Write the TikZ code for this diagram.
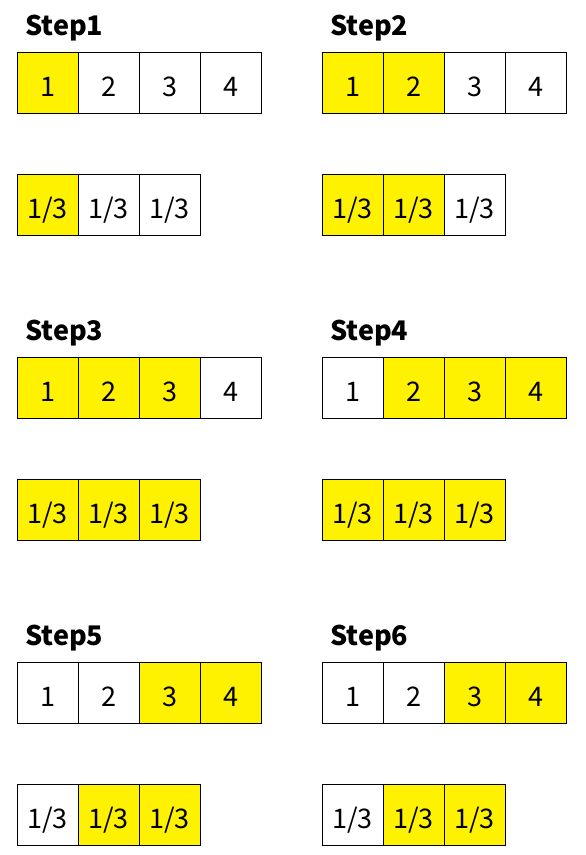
\documentclass[tikz,border=0pt]{standalone}
\usepackage{fontspec}
\setmainfont{Noto Sans CJK JP}
\usetikzlibrary{positioning}
\tikzset{
	cell/.style={rectangle, draw, line width=0.8pt, minimum width=61pt, minimum height=61pt, inner sep=0pt, outer sep=0pt, text height=28pt, text depth=0pt, font=\fontsize{27}{27}\selectfont},
	on/.style={cell, fill=yellow},
	title/.style={anchor=base west, inner sep=0pt, font=\fontsize{27}{27}\selectfont\bfseries}
}
\begin{document}
\begin{tikzpicture}[
		x=1pt, y=-1pt, % pixel grid, y pointing down
		node distance = 0pt % cells touch
		]
		\useasboundingbox (0,0) rectangle (586,855);
		
		% Step1
		\node[title] (t1) at (25,35) {Step1};
		\node[on, anchor=north west] (s1a) at (17,52) {1};
		\node[cell] (s1b) [right=of s1a] {2};
		\node[cell] (s1c) [right=of s1b] {3};
		\node[cell] (s1d) [right=of s1c] {4};
		\node[on, anchor=north west] (s1p) at (17,174) {1/3};
		\node[cell] (s1q) [right=of s1p] {1/3};
		\node[cell] (s1r) [right=of s1q] {1/3};
		
		% Step2
		\node[title] (t2) at (330,35) {Step2};
		\node[on, anchor=north west] (s2a) at (322,52) {1};
		\node[on] (s2b) [right=of s2a] {2};
		\node[cell] (s2c) [right=of s2b] {3};
		\node[cell] (s2d) [right=of s2c] {4};
		\node[on, anchor=north west] (s2p) at (322,174) {1/3};
		\node[on] (s2q) [right=of s2p] {1/3};
		\node[cell] (s2r) [right=of s2q] {1/3};
		
		% Step3
		\node[title] (t3) at (25,340) {Step3};
		\node[on, anchor=north west] (s3a) at (17,357) {1};
		\node[on] (s3b) [right=of s3a] {2};
		\node[on] (s3c) [right=of s3b] {3};
		\node[cell] (s3d) [right=of s3c] {4};
		\node[on, anchor=north west] (s3p) at (17,479) {1/3};
		\node[on] (s3q) [right=of s3p] {1/3};
		\node[on] (s3r) [right=of s3q] {1/3};
		
		% Step4
		\node[title] (t4) at (330,340) {Step4};
		\node[cell, anchor=north west] (s4a) at (322,357) {1};
		\node[on] (s4b) [right=of s4a] {2};
		\node[on] (s4c) [right=of s4b] {3};
		\node[on] (s4d) [right=of s4c] {4};
		\node[on, anchor=north west] (s4p) at (322,479) {1/3};
		\node[on] (s4q) [right=of s4p] {1/3};
		\node[on] (s4r) [right=of s4q] {1/3};
		
		% Step5
		\node[title] (t5) at (25,645) {Step5};
		\node[cell, anchor=north west] (s5a) at (17,662) {1};
		\node[cell] (s5b) [right=of s5a] {2};
		\node[on] (s5c) [right=of s5b] {3};
		\node[on] (s5d) [right=of s5c] {4};
		\node[cell, anchor=north west] (s5p) at (17,784) {1/3};
		\node[on] (s5q) [right=of s5p] {1/3};
		\node[on] (s5r) [right=of s5q] {1/3};
		
		% Step6
		\node[title] (t6) at (330,645) {Step6};
		\node[cell, anchor=north west] (s6a) at (322,662) {1};
		\node[cell] (s6b) [right=of s6a] {2};
		\node[on] (s6c) [right=of s6b] {3};
		\node[on] (s6d) [right=of s6c] {4};
		\node[cell, anchor=north west] (s6p) at (322,784) {1/3};
		\node[on] (s6q) [right=of s6p] {1/3};
		\node[on] (s6r) [right=of s6q] {1/3};
	\end{tikzpicture}
\end{document}
